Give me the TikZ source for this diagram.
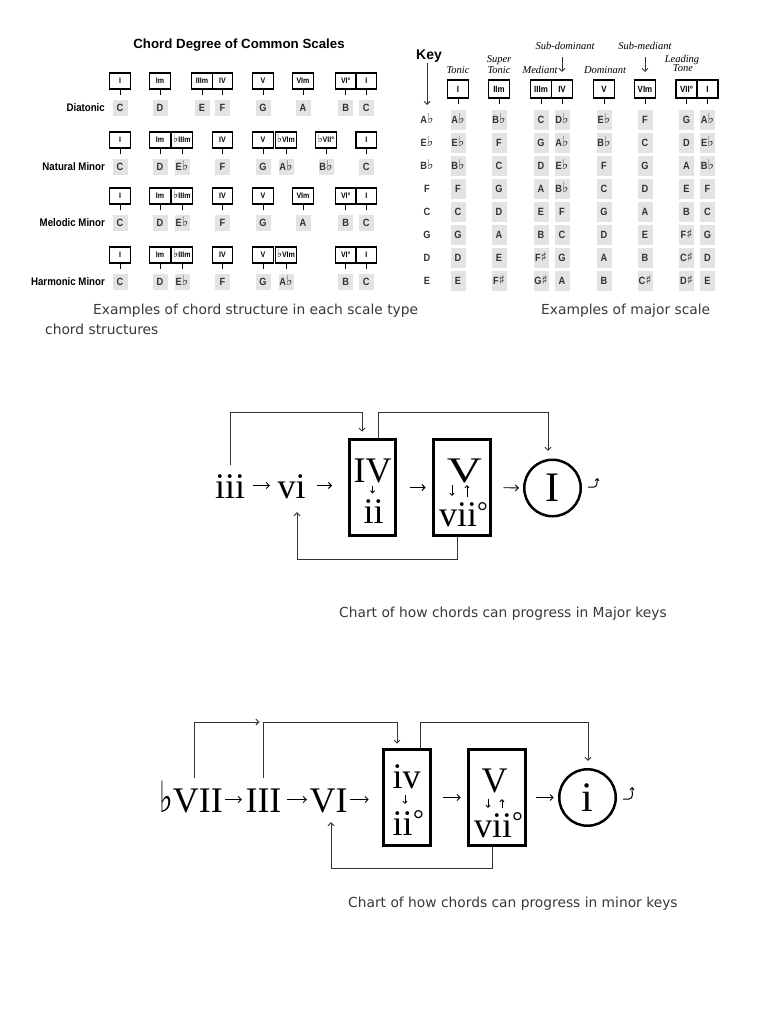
\documentclass[tikz,border=0pt]{standalone}
\usepackage{fontspec}
\setmainfont{Liberation Serif}
\newfontfamily\tabfont{Liberation Sans}
\newfontfamily\narrowfont[FakeStretch=0.88]{Liberation Sans}
\newfontfamily\capfont{DejaVu Sans}
\newfontfamily\symfont{DejaVu Sans}
\usepackage{tikz}
\usetikzlibrary{arrows.meta}
\definecolor{cellgray}{gray}{0.89}
\definecolor{capgray}{gray}{0.22}
\newcommand{\flt}{{\symfont\scalebox{1.3}{♭}}}
\newcommand{\shp}{{\symfont\scalebox{1.2}{♯}}}
\newcommand{\degsym}[2]{\rlap{\kern#1pt\raisebox{#2pt}{\fontsize{27}{27}\selectfont °}}}

\begin{document}
\begin{tikzpicture}[x=1pt,y=-1pt,
    deg/.style={draw, line width=1.1pt, minimum width=20.5, minimum height=16, inner sep=0pt, text height=6pt, text depth=0pt, font=\narrowfont\bfseries\fontsize{8}{8}\selectfont},
    cell/.style={fill=cellgray, minimum width=15, minimum height=16, inner sep=0pt, text height=7.5pt, text depth=0pt, text=black!80, font=\narrowfont\bfseries\fontsize{10.5}{10.5}\selectfont},
    rowlab/.style={anchor=east, inner sep=0pt, font=\narrowfont\bfseries\fontsize{11}{11}\selectfont},
    tick/.style={line width=1pt, shorten >=5pt},
    rdeg/.style={deg, minimum width=21, minimum height=18, text height=6.5pt, font=\narrowfont\bfseries\fontsize{9}{9}\selectfont},
    rcell/.style={cell, minimum height=20},
    hdr/.style={anchor=base, inner sep=0pt, font=\itshape\fontsize{10.5}{10.5}\selectfont},
    captext/.style={anchor=base west, inner sep=0pt, text=capgray, font=\capfont\fontsize{13.8}{16}\selectfont},
    roman/.style={anchor=base, inner sep=0pt, text height=25pt, text depth=0pt, font=\fontsize{36}{36}\selectfont},
    chordbox/.style={draw, line width=2.7pt, minimum height=96.3, inner sep=0pt},
    tonic/.style={draw, circle, line width=2.5pt, minimum size=56.5, inner sep=0pt, font=\fontsize{42}{42}\selectfont},
    seq/.style={-{Straight Barb[length=3pt,width=6pt]}, line width=0.9pt},
    link/.style={-{Straight Barb[length=3pt,width=6pt]}, line width=0.9pt, draw=black!80},
    hop/.style={-{Straight Barb[length=2pt,width=4pt]}, line width=0.8pt},
    hookarr/.style={-{Straight Barb[length=2pt,width=4pt]}, line width=1pt}]
  \useasboundingbox (0,0) rectangle (768,1024);

  % chord degrees of common scales
  \node[inner sep=0pt, font=\tabfont\bfseries\fontsize{13.3}{14}\selectfont] (title) at (239,45) {Chord Degree of Common Scales};

  \node[rowlab] (ldia) at (105,108) {Diatonic};
  \foreach \x/\d/\n [count=\i] in {120/I/C,160/Im/D,202/IIIm/E,222.5/IV/F,263/V/G,303/VIm/A,345.75/VI°/B,366.25/I/C}{
    \node[deg] (dia\i) at (\x,81) {\d};
    \node[cell] (diac\i) at (\x,108) {\n};
    \draw[tick] (dia\i) -- (diac\i);
  }
  \node[rowlab] (lnat) at (105,167) {Natural Minor};
  \foreach \x/\d/\n [count=\i] in {120/I/C,160/Im/D,182/{\flt IIIm}/{E\flt},222.5/IV/F,263/V/G,286/{\flt VIm}/{A\flt},326/{\flt VII°}/{B\flt},366.25/I/C}{
    \node[deg] (nat\i) at (\x,140) {\d};
    \node[cell] (natc\i) at (\x,167) {\n};
    \draw[tick] (nat\i) -- (natc\i);
  }
  \node[rowlab] (lmel) at (105,223) {Melodic Minor};
  \foreach \x/\d/\n [count=\i] in {120/I/C,160/Im/D,182/{\flt IIIm}/{E\flt},222.5/IV/F,263/V/G,303/VIm/A,345.75/VI°/B,366.25/I/C}{
    \node[deg] (mel\i) at (\x,196) {\d};
    \node[cell] (melc\i) at (\x,223) {\n};
    \draw[tick] (mel\i) -- (melc\i);
  }
  \node[rowlab] (lhar) at (105,282) {Harmonic Minor};
  \foreach \x/\d/\n [count=\i] in {120/I/C,160/Im/D,182/{\flt IIIm}/{E\flt},222.5/IV/F,263/V/G,286/{\flt VIm}/{A\flt},345.75/VI°/B,366.25/I/C}{
    \node[deg] (har\i) at (\x,255) {\d};
    \node[cell] (harc\i) at (\x,282) {\n};
    \draw[tick] (har\i) -- (harc\i);
  }

  % major scale table
  \node[anchor=base, inner sep=0pt, font=\tabfont\bfseries\fontsize{14}{14}\selectfont] (keyh) at (429,60) {Key};
  \coordinate (keyend) at (427,105);
  \draw[link] (keyh.south -| keyend) -- (keyend);
  \node[hdr] (tonich) at (458,74) {Tonic};
  \node[hdr] (super) at (499,63) {Super};
  \node[hdr] (supertonic) at (499,74) {Tonic};
  \node[hdr] (mediant) at (540,74) {Mediant};
  \node[hdr] (subdom) at (565,50) {Sub-dominant};
  \node[hdr] (dominant) at (605,74) {Dominant};
  \node[hdr] (submed) at (645,50) {Sub-mediant};
  \node[hdr] (leading) at (682,63) {Leading};
  \node[hdr] (leadtone) at (683,71.5) {Tone};

  \foreach \k/\row [count=\r] in {
      {A\flt}/{A\flt,B\flt,C,D\flt,E\flt,F,G,A\flt},
      {E\flt}/{E\flt,F,G,A\flt,B\flt,C,D,E\flt},
      {B\flt}/{B\flt,C,D,E\flt,F,G,A,B\flt},
      F/{F,G,A,B\flt,C,D,E,F},
      C/{C,D,E,F,G,A,B,C},
      G/{G,A,B,C,D,E,F\shp,G},
      D/{D,E,F\shp,G,A,B,C\shp,D},
      E/{E,F\shp,G\shp,A,B,C\shp,D\shp,E}}{
    \pgfmathsetmacro{\yy}{97+23*\r}
    \node[cell, fill=none] (key\r) at (427,\yy) {\k};
    \foreach \n [count=\c] in \row {
      \pgfmathsetmacro{\cx}{{458,499,541,562,604,645,686.5,707.5}[\c-1]}
      \node[rcell] (rc\r-\c) at (\cx,\yy) {\n};
    }
  }
  \foreach \x/\d [count=\i] in {458/I,499/IIm,541/IIIm,562/IV,604/V,645/VIm,686.5/VII°,707.5/I}{
    \node[rdeg] (h\i) at (\x,89) {\d};
    \draw[tick, shorten >=6pt] (h\i) -- (rc1-\i);
  }
  \draw[link, shorten <=7pt, shorten >=7.5pt] (subdom.south -| h4) -- (h4.north);
  \draw[link, shorten <=7pt, shorten >=7.5pt] (submed.south -| h6) -- (h6.north);

  \node[captext] (capa) at (93,314) {Examples of chord structure in each scale type};
  \node[captext] (capb) at (45,334) {chord structures};
  \node[captext] (capc) at (541,314) {Examples of major scale};

  % major keys
  \node[roman] (iii) at (230,498) {iii};
  \node[roman] (vi) at (291.5,498) {vi};
  \node[chordbox, minimum width=46.3] (box1) at (372.5,487.5) {};
  \node[roman] (IV) at (372.5,482) {IV};
  \node[roman] (ii) at (373.5,523) {ii};
  \node[chordbox, minimum width=57.3] (box2) at (462,487.5) {};
  \node[roman] (V) at (464.5,482) {\scalebox{1.35}[1]{V}};
  \node[roman] (vii) at (458,526) {vii\degsym{0}{6}};
  \node[tonic] (tonicM) at (552.5,488) {I};

  \draw[seq, shorten <=8pt, shorten >=7.5pt] (iii.east) -- (iii.east -| vi.west);
  \draw[seq, shorten <=11.5pt, shorten >=16pt] (vi.east) -- (vi.east -| box1.west);
  \draw[seq, shorten <=12.5pt, shorten >=6.5pt] (box1.east) -- (box2.west);
  \draw[seq, shorten <=11.5pt, shorten >=4pt] (box2.east) -- (tonicM.west);
  \draw[hop, shorten <=4pt, shorten >=4.5pt] (IV.south) -- (IV.south |- ii.north);
  \draw[hop, shorten <=3pt, shorten >=5pt] ([xshift=-12.5pt]V.south) -- ([xshift=-12.5pt]V.south |- vii.north);
  \draw[hop, shorten <=4pt, shorten >=3pt] ([xshift=2.5pt]V.south |- vii.north) -- ([xshift=2.5pt]V.south);
  \draw[hookarr] ([xshift=6pt,yshift=1pt]tonicM.east) -- ++(6,0) to[out=0,in=-90] ++(3,-9);

  \coordinate (mtop) at (0,412);
  \coordinate (mbot) at (0,559);
  \draw[link, shorten <=8pt, shorten >=6.3pt] (iii.north) |- ([xshift=-10.5pt]box1.north |- mtop) -- ([xshift=-10.5pt]box1.north);
  \draw[link, shorten >=7.7pt] ([xshift=5.5pt]box1.north) |- ([xshift=-4.5pt]tonicM.north |- mtop) -- ([xshift=-4.5pt]tonicM.north);
  \draw[link, shorten >=14pt] ([xshift=-5pt]box2.south) |- ([xshift=5.5pt]vi.south |- mbot) -- ([xshift=5.5pt]vi.south);

  \node[captext] (capd) at (339,617.5) {Chart of how chords can progress in Major keys};

  % minor keys
  \node[roman, anchor=base east] (bvii) at (223,812) {{\symfont\fontsize{36}{36}\selectfont\scalebox{0.8}[1.2]{♭}}VII};
  \node[roman] (III) at (263.5,812) {III};
  \node[roman] (VI) at (328.5,812) {VI};
  \node[chordbox, minimum width=47.3] (box3) at (407,797.5) {};
  \node[roman] (iv) at (406.5,788) {iv};
  \node[roman] (iio) at (402.5,835) {ii\degsym{0.7}{7}};
  \node[chordbox, minimum width=57.3] (box4) at (497,797.5) {};
  \node[roman] (Vm) at (494.5,792) {V};
  \node[roman] (viio) at (493,837) {vii\degsym{0.2}{7}};
  \node[tonic] (tonicm) at (587.5,797.5) {i};

  \draw[seq, shorten <=2pt, shorten >=3.5pt] (bvii.east) -- (bvii.east -| III.west);
  \draw[seq, shorten <=5.5pt, shorten >=2.5pt] (III.east) -- (III.east -| VI.west);
  \draw[seq, shorten <=2.5pt, shorten >=13.4pt] (VI.east) -- (VI.east -| box3.west);
  \draw[seq, shorten <=11.4pt, shorten >=6.4pt] (box3.east) -- (box4.west);
  \draw[seq, shorten <=9.4pt, shorten >=4.3pt] (box4.east) -- (tonicm.west);
  \draw[hop, shorten <=7pt, shorten >=6pt] ([xshift=-1.5pt]iv.south) -- ([xshift=-1.5pt]iv.south |- iio.north);
  \draw[hop, shorten <=7pt, shorten >=4pt] ([xshift=-6.5pt]Vm.south) -- ([xshift=-6.5pt]Vm.south |- viio.north);
  \draw[hop, shorten <=4pt, shorten >=7pt] ([xshift=7.5pt]Vm.south |- viio.north) -- ([xshift=7.5pt]Vm.south);
  \draw[hookarr] ([xshift=6pt,yshift=-1.5pt]tonicm.east) -- ++(6,0) to[out=0,in=-90] ++(3,-12);

  \coordinate (ntop) at (0,722);
  \coordinate (nbot) at (0,868);
  \draw[link, shorten <=9pt] ([xshift=-29pt]bvii.north east) |- ([xshift=-4pt]III.north |- ntop);
  \draw[link, shorten <=9pt, shorten >=4.3pt] (III.north) |- ([xshift=-10pt]box3.north |- ntop) -- ([xshift=-10pt]box3.north);
  \draw[link, shorten >=7.2pt] ([xshift=13pt]box3.north) |- ([xshift=0.5pt]tonicm.north |- ntop) -- ([xshift=0.5pt]tonicm.north);
  \draw[link, shorten >=10pt] ([xshift=-5pt]box4.south) |- ([xshift=2.5pt]VI.south |- nbot) -- ([xshift=2.5pt]VI.south);

  \node[captext] (cape) at (348,907) {Chart of how chords can progress in minor keys};
\end{tikzpicture}
\end{document}
